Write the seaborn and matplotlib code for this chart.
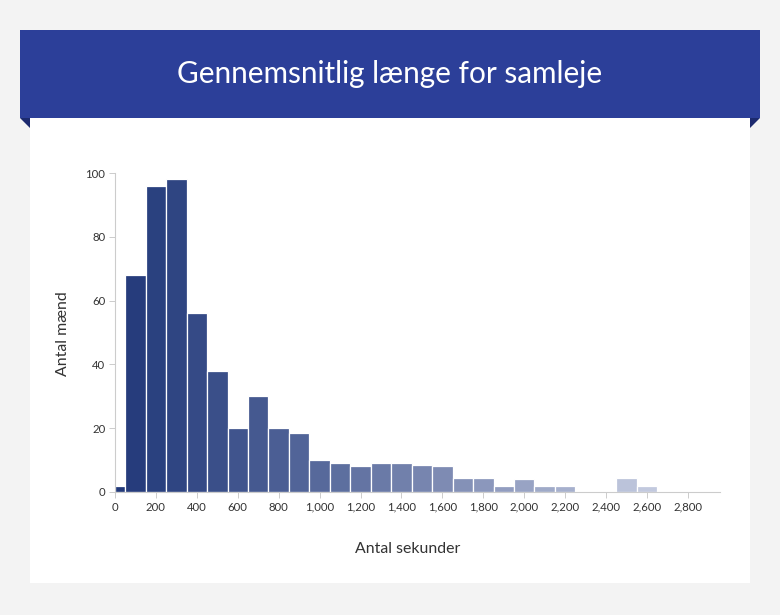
import matplotlib
matplotlib.use("Agg")
import matplotlib.pyplot as plt
import matplotlib.colors as mcolors
from matplotlib.patches import Rectangle, Polygon
import seaborn as sns
import numpy as np

# ---- data ----
bin_left = [0, 50, 150, 250, 350, 450, 550, 650, 750, 850, 950, 1050, 1150, 1250,
            1350, 1450, 1550, 1650, 1750, 1850, 1950, 2050, 2150, 2250, 2350, 2450, 2550]
bin_right = [50, 150, 250, 350, 450, 550, 650, 750, 850, 950, 1050, 1150, 1250, 1350,
             1450, 1550, 1650, 1750, 1850, 1950, 2050, 2150, 2250, 2350, 2450, 2550, 2650]
counts = [2, 68, 96, 98, 56, 38, 20, 30, 20, 18.5, 10, 9, 8, 9,
          9, 8.5, 8, 4.5, 4.5, 2, 4, 2, 2, 0, 0, 4.5, 2]
x_ticks = [0, 200, 400, 600, 800, 1000, 1200, 1400, 1600, 1800, 2000, 2200, 2400, 2600, 2800]
y_ticks = [0, 20, 40, 60, 80, 100]
title = "Gennemsnitlig længe for samleje"
xlabel = "Antal sekunder"
ylabel = "Antal mænd"

sns.set_theme(style="white")
plt.rcParams['font.family'] = ['Lato', 'DejaVu Sans']

W, H = 780, 615
fig = plt.figure(figsize=(W / 100, H / 100), dpi=100)
fig.patch.set_facecolor("#f3f3f3")

def fx(px):
    return px / W

def fy(py):
    return 1 - py / H

# white card
fig.patches.append(Rectangle((fx(30), fy(583)), fx(750) - fx(30), fy(118) - fy(583),
                             transform=fig.transFigure, facecolor="white", edgecolor="none", zorder=-2))
# banner
fig.patches.append(Rectangle((fx(20), fy(118)), fx(760) - fx(20), fy(30) - fy(118),
                             transform=fig.transFigure, facecolor="#2c3f99", edgecolor="none", zorder=-1))
# folds
fig.patches.append(Polygon([(fx(20), fy(118)), (fx(30), fy(118)), (fx(30), fy(128))],
                           closed=True, transform=fig.transFigure, facecolor="#1c2a6e", edgecolor="none", zorder=-1))
fig.patches.append(Polygon([(fx(760), fy(118)), (fx(750), fy(118)), (fx(750), fy(128))],
                           closed=True, transform=fig.transFigure, facecolor="#1c2a6e", edgecolor="none", zorder=-1))
fig.text(0.5, fy(74), title, color="white", fontsize=21.4, ha="center", va="center", zorder=3)

ax = fig.add_axes([fx(115), fy(492), fx(720) - fx(115), fy(173) - fy(492)])
ax.set_facecolor("none")
ax.set_zorder(5)

centers = [(l + r) / 2 for l, r in zip(bin_left, bin_right)]
edges = bin_left + [bin_right[-1]]
sns.histplot(x=centers, weights=counts, bins=edges, ax=ax, stat="count",
             edgecolor="white", linewidth=0.9, alpha=1)

c0 = np.array(mcolors.to_rgb("#22397a"))
c1 = np.array(mcolors.to_rgb("#c2c9de"))
n = len(ax.patches)
for i, p in enumerate(ax.patches):
    t = (i / (n - 1)) ** 1.15
    p.set_facecolor(tuple(c0 + (c1 - c0) * t))
    p.set_edgecolor("white")

ax.set_xlim(0, 2957)
ax.set_ylim(0, 100)
ax.set_xticks(x_ticks)
ax.set_xticklabels([f"{v:,}" for v in x_ticks])
ax.set_yticks(y_ticks)
ax.set_yticklabels([str(v) for v in y_ticks])
for s in ["top", "right"]:
    ax.spines[s].set_visible(False)
for s in ["left", "bottom"]:
    ax.spines[s].set_color("#cccccc")
    ax.spines[s].set_linewidth(0.8)
ax.tick_params(axis="both", which="both", direction="out", length=4, width=0.7,
               color="#cccccc", labelcolor="#333333", labelsize=8.2, pad=3)
ax.tick_params(axis="y", left=True)
ax.tick_params(axis="x", bottom=True)
ax.set_xlabel("")
ax.set_ylabel("")
fig.text(fx(408), fy(549), xlabel, fontsize=11.4, color="#333333", ha="center", va="center")
fig.text(fx(63), fy(334), ylabel, fontsize=11.4, color="#333333", ha="center", va="center", rotation=90)

fig.savefig("out.png", dpi=100, facecolor=fig.get_facecolor())
